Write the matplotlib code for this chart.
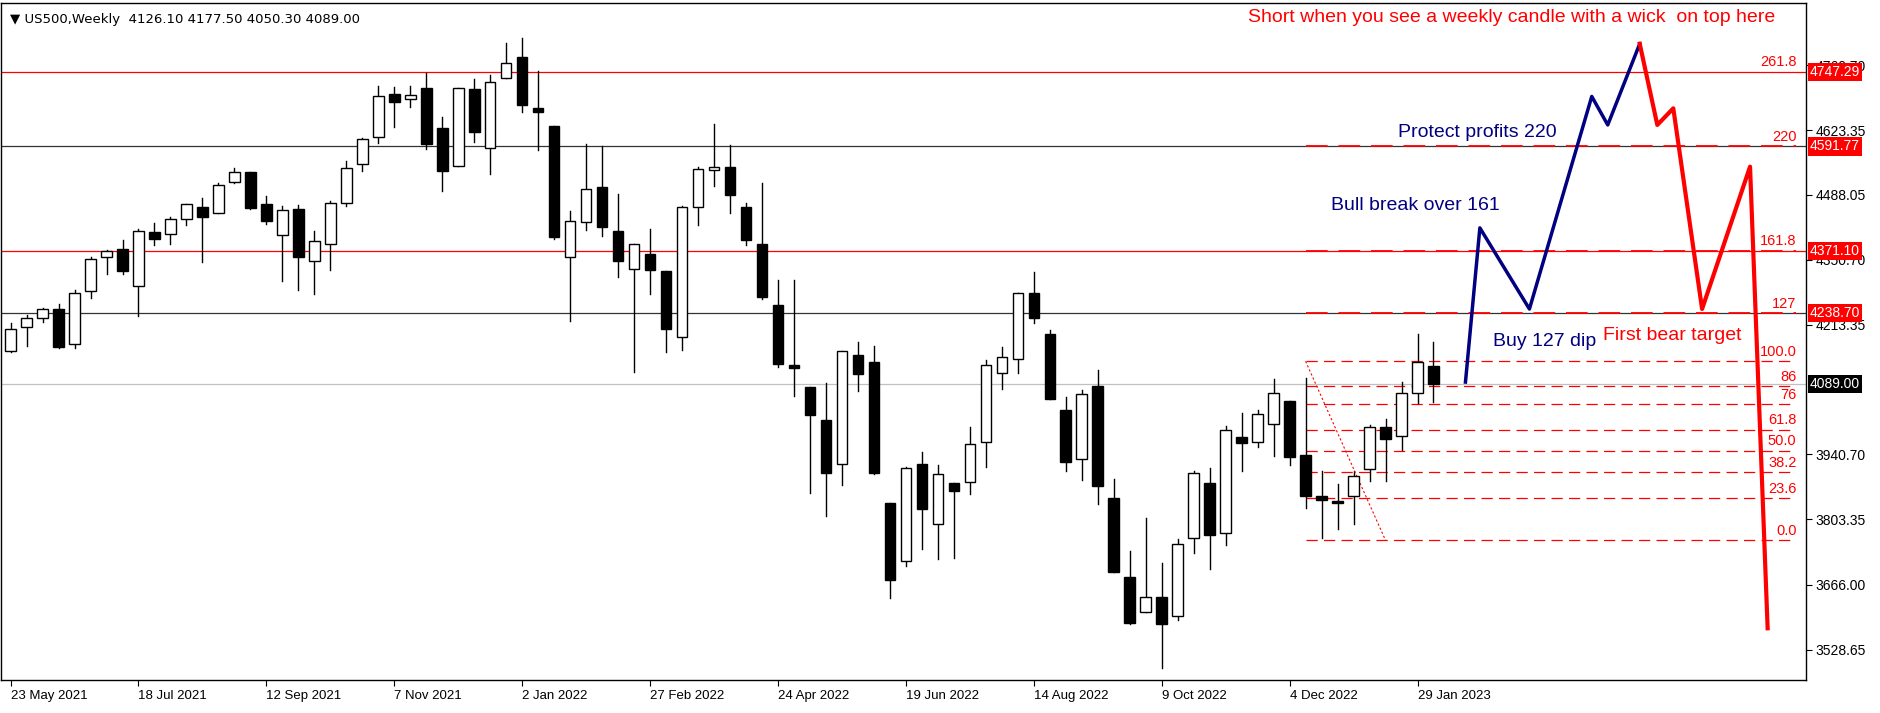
import matplotlib
matplotlib.use("Agg")
import matplotlib.pyplot as plt
from matplotlib.patches import Rectangle
import numpy as np

plt.rcParams['font.family'] = ['Liberation Sans', 'DejaVu Sans']

# Weekly OHLC, first week 23 May 2021
ohlc = [
(4158,4218,4156,4204),(4210,4234,4168,4229),(4229,4249,4220,4247),(4248,4257,4164,4166),
(4174,4286,4164,4280),(4284,4356,4271,4352),(4356,4372,4320,4369),(4373,4393,4321,4327),
(4296,4415,4233,4411),(4409,4429,4382,4395),(4406,4440,4385,4437),(4437,4468,4424,4468),
(4461,4480,4347,4441),(4450,4513,4450,4509),(4514,4545,4513,4535),(4535,4536,4457,4459),
(4469,4486,4427,4433),(4403,4465,4306,4455),(4458,4466,4288,4357),(4348,4412,4279,4391),
(4385,4475,4329,4471),(4471,4559,4465,4545),(4553,4608,4537,4605),(4610,4718,4596,4697),
(4701,4714,4630,4683),(4689,4717,4672,4698),(4712,4744,4585,4595),(4628,4652,4495,4538),
(4548,4713,4548,4712),(4710,4731,4600,4620),(4587,4741,4531,4726),(4733,4808,4733,4766),
(4778,4819,4662,4677),(4670,4749,4582,4663),(4632,4632,4395,4398),(4357,4453,4222,4432),
(4431,4595,4414,4500),(4505,4590,4401,4419),(4412,4490,4314,4349),(4332,4385,4115,4385),
(4363,4416,4279,4329),(4327,4327,4157,4204),(4188,4465,4161,4463),(4462,4546,4424,4543),
(4541,4637,4507,4546),(4547,4593,4450,4488),(4462,4471,4382,4392),(4385,4513,4269,4272),
(4255,4309,4124,4132),(4130,4308,4063,4123),(4082,4082,3859,4024),(4014,4091,3811,3901),
(3920,4158,3876,4158),(4151,4178,4074,4109),(4135,4168,3900,3901),(3838,3838,3637,3675),
(3715,3913,3705,3912),(3920,3946,3741,3825),(3793,3918,3721,3899),(3880,3880,3722,3863),
(3883,3999,3858,3962),(3966,4140,3913,4130),(4113,4167,4079,4145),(4142,4280,4112,4280),
(4281,4325,4218,4228),(4195,4203,4057,4057),(4034,4062,3906,3924),(3930,4076,3886,4067),
(4084,4119,3837,3873),(3849,3889,3693,3693),(3682,3736,3584,3585),(3609,3806,3609,3639),
(3640,3712,3491,3583),(3600,3762,3591,3752),(3765,3905,3733,3901),(3881,3911,3698,3771),
(3775,4001,3750,3993),(3978,4028,3906,3965),(3966,4034,3956,4026),(4005,4100,3938,4071),
(4053,4053,3919,3934),(3939,4101,3827,3852),(3853,3906,3764,3845),(3843,3879,3783,3839),
(3853,3906,3794,3895),(3910,4003,3885,3999),(3999,4015,3885,3972),(3979,4094,3950,4070),
(4071,4195,4049,4136),(4126,4177,4050,4089),
]
date_labels = ["23 May 2021","18 Jul 2021","12 Sep 2021","7 Nov 2021","2 Jan 2022","27 Feb 2022",
               "24 Apr 2022","19 Jun 2022","14 Aug 2022","9 Oct 2022","4 Dec 2022","29 Jan 2023"]
date_idx = [0,8,16,24,32,40,48,56,64,72,80,88]
yticks = [4760.70,4623.35,4488.05,4350.70,4213.35,3940.70,3803.35,3666.00,3528.65]

fib_low, fib_high = 3759.5, 4136.8
fib_start, fib_end = 81, 86
fib_inner = [0.0,23.6,38.2,50.0,61.8,76,86,100.0]
fib_inner_lbl = ["0.0","23.6","38.2","50.0","61.8","76","86","100.0"]
fib_ext = [127,161.8,220,261.8]
ext_tags = ["4238.70","4371.10","4591.77","4747.29"]
last_price = 4089.00

blue_x = [91.0,91.9,95.0,98.9,99.9,101.9]
blue_y = [4093,4418,4247,4695,4635,4806]
red_x = [101.9,103.0,104.0,105.8,108.8,109.9]
red_y = [4806,4635,4670,4247,4547,3574]

W,H = 1881,713
fig = plt.figure(figsize=(W/100,H/100), dpi=100)
ax = fig.add_axes([1/W, 1-680/H, 1805/W, 677/H])
ax.set_xlim(-0.6, 112.3)
ax.set_ylim(3465, 4892)

def lvl(f): return fib_low + f/100*(fib_high-fib_low)

# full width lines
for f,c in [(261.8,'#ff0000'),(220,'#333333'),(161.8,'#ff0000'),(127,'#333333')]:
    ax.axhline(lvl(f), color=c, lw=0.9, zorder=1)
ax.axhline(last_price, color='#c0c0c0', lw=0.9, zorder=1)

# candles
bw = 0.66
for i,(o,h,l,c) in enumerate(ohlc):
    ax.plot([i,i],[l,h], color='black', lw=1, zorder=2)
    bull = c >= o
    ax.add_patch(Rectangle((i-bw/2, min(o,c)), bw, max(abs(c-o),2),
                 facecolor='white' if bull else 'black', edgecolor='black', lw=1, zorder=3))

# fib
for f,lab in zip(fib_inner, fib_inner_lbl):
    ax.plot([fib_start,111.7],[lvl(f)]*2, color='#ff0000', lw=0.9, ls=(0,(9,5)), zorder=1)
    ax.text(111.7, lvl(f)+5, lab, color='#ff0000', fontsize=10.5, ha='right', va='bottom')
for f in fib_ext:
    if f != 261.8:
        ax.plot([fib_start,111.7],[lvl(f)]*2, color='#ff0000', lw=1.3, ls=(0,(12,6)), zorder=1)
    ax.text(111.7, lvl(f)+5, f"{f:g}", color='#ff0000', fontsize=10.5, ha='right', va='bottom')
ax.plot([fib_start,fib_end],[fib_high,fib_low], color='#ff0000', lw=0.8, ls=(0,(2,2)))

ax.plot(blue_x, blue_y, color='#000080', lw=2.5, zorder=5)
ax.plot(red_x, red_y, color='#ff0000', lw=3, zorder=5)

ax.text(77.4, 4862, "Short when you see a weekly candle with a wick  on top here", color='#ff0000', fontsize=14, va='center')
ax.text(86.8, 4620, "Protect profits 220", color='#000080', fontsize=14, va='center')
ax.text(82.6, 4465, "Bull break over 161", color='#000080', fontsize=14, va='center')
ax.text(92.7, 4179, "Buy 127 dip", color='#000080', fontsize=14, va='center')
ax.text(99.6, 4192, "First bear target", color='#ff0000', fontsize=14, va='center')
ax.text(0.005, 0.985, "▼ US500,Weekly  4126.10 4177.50 4050.30 4089.00", transform=ax.transAxes,
        fontsize=9.5, va='top', ha='left', family=['DejaVu Sans'])

ax.yaxis.tick_right()
ax.set_yticks(yticks)
ax.set_yticklabels([f"{v:.2f}" for v in yticks], fontsize=10)
ax.tick_params(axis='y', length=4, pad=3)
ax.set_xticks(date_idx)
ax.set_xticklabels(date_labels, fontsize=9.5, ha='left')
ax.tick_params(axis='x', length=4, pad=3)

for f,t in zip(fib_ext, ext_tags):
    ax.text(1.002, lvl(f), t, transform=ax.get_yaxis_transform(), color='white', fontsize=10, va='center',
            bbox=dict(facecolor='#ff0000', edgecolor='none', pad=1.5))
ax.text(1.002, last_price, "4089.00", transform=ax.get_yaxis_transform(), color='white', fontsize=10, va='center',
        bbox=dict(facecolor='black', edgecolor='none', pad=1.5))
for s in ax.spines.values():
    s.set_color('black'); s.set_lw(1)

fig.savefig("out.png", dpi=100)
